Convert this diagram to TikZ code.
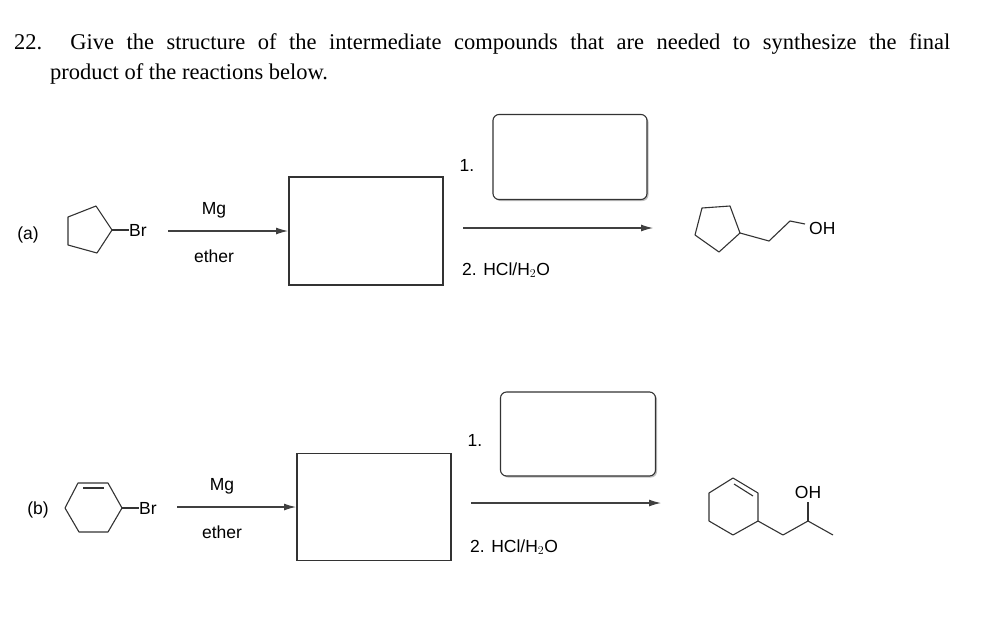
\documentclass[tikz,border=0pt]{standalone}
\usepackage{fontspec}
\setmainfont{Liberation Serif}
\newfontfamily\lsans{Liberation Sans}
\usetikzlibrary{arrows.meta,shadows}
\begin{document}
\begin{tikzpicture}[x=1pt,y=-1pt,
  lab/.style={font=\lsans\fontsize{17.5}{20}\selectfont,inner sep=0pt},
  bond/.style={draw=black!80,line width=1.1pt,line join=round},
  rxn/.style={draw=black!75,line width=1.1pt,-{Latex[length=12pt,width=7pt]}},
  ansbox/.style={draw=black!80,line width=1.1pt},
  rbox/.style={draw=black!80,line width=1.1pt,rounded corners=6pt,fill=white,drop shadow={shadow xshift=1.5pt,shadow yshift=-1.5pt,opacity=0.5}}]
\useasboundingbox (0,0) rectangle (982,622);
% header
\node[anchor=west,inner sep=0pt,font=\fontsize{22.5}{28}\selectfont] (q1) at (14,44)
 {\makebox[936pt][s]{22. Give the structure of the intermediate compounds that are needed to synthesize the final}};
\node[anchor=west,inner sep=0pt,font=\fontsize{22.5}{28}\selectfont] (q2) at (50,74)
 {product of the reactions below.};
% ---------- (a)
\node[lab] (la) at (28,235) {(a)};
\draw[bond] (68,217) -- (96,206) -- (112,230) -- (97,253) -- (68,245) -- cycle;
\coordinate (ra) at (112,230);
\node[lab,anchor=west] (bra) at (129,230) {Br};
\draw[bond] (ra) -- (bra.west);
\coordinate (a1s) at (168,231); \coordinate (a1e) at (288,231);
\draw[rxn] (a1s) -- (a1e);
\node[lab] (mga) at (214,210) {Mg};
\node[lab] (eta) at (214,256) {ether};
\node[ansbox,minimum width=154pt,minimum height=108pt,inner sep=0pt] (boxa) at (366,231) {};
\node[lab] (n1a) at (467,165) {1.};
\node[rbox,minimum width=154pt,minimum height=85pt,inner sep=0pt] (rba) at (570,157) {};
\coordinate (a2s) at (463,228); \coordinate (a2e) at (653,228);
\draw[rxn] (a2s) -- (a2e);
\node[lab,anchor=west] (hcla) at (462,270) {2. HCl/H$_2$O};
\draw[bond] (702,208) -- (730,206) -- (740,233) -- (719,252) -- (695,235) -- cycle;
\draw[bond] (740,233) -- (769,241) -- (790,221) -- (805,224);
\node[lab,anchor=west] (oha) at (809,228) {OH};
% ---------- (b)
\node[lab] (lb) at (38,510) {(b)};
\draw[bond] (78,483) -- (108,483) -- (122,508) -- (108,532) -- (79,532) -- (65,508) -- cycle;
\draw[bond] (83,488) -- (104,488);
\node[lab,anchor=west] (brb) at (139,508) {Br};
\draw[bond] (122,508) -- (brb.west);
\coordinate (b1s) at (177,507); \coordinate (b1e) at (296,507);
\draw[rxn] (b1s) -- (b1e);
\node[lab] (mgb) at (222,486) {Mg};
\node[lab] (etb) at (222,532) {ether};
\node[ansbox,minimum width=154pt,minimum height=107pt,inner sep=0pt] (boxb) at (374,507) {};
\node[lab] (n1b) at (475,440) {1.};
\node[rbox,minimum width=155pt,minimum height=84pt,inner sep=0pt] (rbb) at (578,434) {};
\coordinate (b2s) at (471,503); \coordinate (b2e) at (661,503);
\draw[rxn] (b2s) -- (b2e);
\node[lab,anchor=west] (hclb) at (470,547) {2. HCl/H$_2$O};
\draw[bond] (733,478) -- (758,493) -- (758,521) -- (733,535) -- (709,521) -- (709,493) -- cycle;
\draw[bond] (734,484) -- (753,496);
\draw[bond] (758,521) -- (783,535) -- (808,521) -- (833,535);
\node[lab] (ohb) at (808,492) {OH};
\coordinate (ohbot) at (808,502);
\draw[bond] (808,521) -- (ohbot);
\end{tikzpicture}
\end{document}
